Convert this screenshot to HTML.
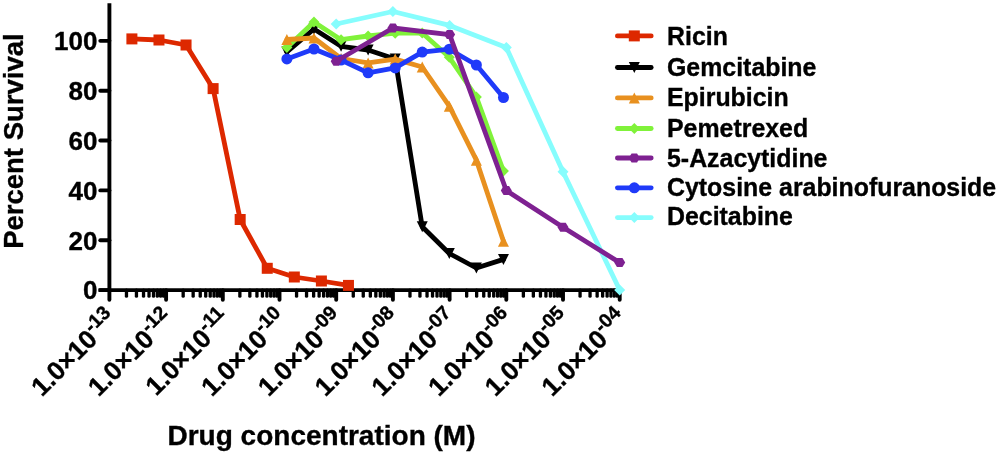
<!DOCTYPE html><html><head><meta charset="utf-8"><style>html,body{margin:0;padding:0;background:#fff;}svg{display:block;}text{font-family:"Liberation Sans",Arial,Helvetica,sans-serif;font-weight:bold;fill:#000;stroke:#000;stroke-width:0.35px;}</style></head><body>
<svg width="1000" height="454" viewBox="0 0 1000 454">
<line x1="109.4" y1="3.3" x2="109.4" y2="290.1" stroke="#000" stroke-width="3.9" stroke-linecap="butt"/>
<line x1="98.5" y1="290.1" x2="621.7" y2="290.1" stroke="#000" stroke-width="3.9" stroke-linecap="butt"/>
<line x1="100.3" y1="290.10" x2="109.4" y2="290.10" stroke="#000" stroke-width="3.9" stroke-linecap="round"/>
<text x="97.4" y="299.40" font-size="26" text-anchor="end">0</text>
<line x1="100.3" y1="240.25" x2="109.4" y2="240.25" stroke="#000" stroke-width="3.9" stroke-linecap="round"/>
<text x="97.4" y="249.55" font-size="26" text-anchor="end">20</text>
<line x1="100.3" y1="190.40" x2="109.4" y2="190.40" stroke="#000" stroke-width="3.9" stroke-linecap="round"/>
<text x="97.4" y="199.70" font-size="26" text-anchor="end">40</text>
<line x1="100.3" y1="140.55" x2="109.4" y2="140.55" stroke="#000" stroke-width="3.9" stroke-linecap="round"/>
<text x="97.4" y="149.85" font-size="26" text-anchor="end">60</text>
<line x1="100.3" y1="90.70" x2="109.4" y2="90.70" stroke="#000" stroke-width="3.9" stroke-linecap="round"/>
<text x="97.4" y="100.00" font-size="26" text-anchor="end">80</text>
<line x1="100.3" y1="40.85" x2="109.4" y2="40.85" stroke="#000" stroke-width="3.9" stroke-linecap="round"/>
<text x="97.4" y="50.15" font-size="26" text-anchor="end">100</text>
<line x1="109.40" y1="290.1" x2="109.40" y2="299.8" stroke="#000" stroke-width="3.9" stroke-linecap="round"/>
<line x1="126.47" y1="290.1" x2="126.47" y2="296.2" stroke="#000" stroke-width="3.31" stroke-linecap="round"/>
<line x1="136.45" y1="290.1" x2="136.45" y2="296.2" stroke="#000" stroke-width="3.31" stroke-linecap="round"/>
<line x1="143.54" y1="290.1" x2="143.54" y2="296.2" stroke="#000" stroke-width="3.31" stroke-linecap="round"/>
<line x1="149.03" y1="290.1" x2="149.03" y2="296.2" stroke="#000" stroke-width="3.31" stroke-linecap="round"/>
<line x1="153.52" y1="290.1" x2="153.52" y2="296.2" stroke="#000" stroke-width="3.31" stroke-linecap="round"/>
<line x1="157.32" y1="290.1" x2="157.32" y2="296.2" stroke="#000" stroke-width="3.31" stroke-linecap="round"/>
<line x1="160.61" y1="290.1" x2="160.61" y2="296.2" stroke="#000" stroke-width="3.31" stroke-linecap="round"/>
<line x1="163.51" y1="290.1" x2="163.51" y2="296.2" stroke="#000" stroke-width="3.31" stroke-linecap="round"/>
<text transform="translate(118.70,320.8) rotate(-45)" font-size="26" text-anchor="end">1.0×10<tspan font-size="19.5" dy="-10">-13</tspan></text>
<line x1="166.10" y1="290.1" x2="166.10" y2="299.8" stroke="#000" stroke-width="3.9" stroke-linecap="round"/>
<line x1="183.17" y1="290.1" x2="183.17" y2="296.2" stroke="#000" stroke-width="3.31" stroke-linecap="round"/>
<line x1="193.15" y1="290.1" x2="193.15" y2="296.2" stroke="#000" stroke-width="3.31" stroke-linecap="round"/>
<line x1="200.24" y1="290.1" x2="200.24" y2="296.2" stroke="#000" stroke-width="3.31" stroke-linecap="round"/>
<line x1="205.73" y1="290.1" x2="205.73" y2="296.2" stroke="#000" stroke-width="3.31" stroke-linecap="round"/>
<line x1="210.22" y1="290.1" x2="210.22" y2="296.2" stroke="#000" stroke-width="3.31" stroke-linecap="round"/>
<line x1="214.02" y1="290.1" x2="214.02" y2="296.2" stroke="#000" stroke-width="3.31" stroke-linecap="round"/>
<line x1="217.31" y1="290.1" x2="217.31" y2="296.2" stroke="#000" stroke-width="3.31" stroke-linecap="round"/>
<line x1="220.21" y1="290.1" x2="220.21" y2="296.2" stroke="#000" stroke-width="3.31" stroke-linecap="round"/>
<text transform="translate(175.40,320.8) rotate(-45)" font-size="26" text-anchor="end">1.0×10<tspan font-size="19.5" dy="-10">-12</tspan></text>
<line x1="222.80" y1="290.1" x2="222.80" y2="299.8" stroke="#000" stroke-width="3.9" stroke-linecap="round"/>
<line x1="239.87" y1="290.1" x2="239.87" y2="296.2" stroke="#000" stroke-width="3.31" stroke-linecap="round"/>
<line x1="249.85" y1="290.1" x2="249.85" y2="296.2" stroke="#000" stroke-width="3.31" stroke-linecap="round"/>
<line x1="256.94" y1="290.1" x2="256.94" y2="296.2" stroke="#000" stroke-width="3.31" stroke-linecap="round"/>
<line x1="262.43" y1="290.1" x2="262.43" y2="296.2" stroke="#000" stroke-width="3.31" stroke-linecap="round"/>
<line x1="266.92" y1="290.1" x2="266.92" y2="296.2" stroke="#000" stroke-width="3.31" stroke-linecap="round"/>
<line x1="270.72" y1="290.1" x2="270.72" y2="296.2" stroke="#000" stroke-width="3.31" stroke-linecap="round"/>
<line x1="274.01" y1="290.1" x2="274.01" y2="296.2" stroke="#000" stroke-width="3.31" stroke-linecap="round"/>
<line x1="276.91" y1="290.1" x2="276.91" y2="296.2" stroke="#000" stroke-width="3.31" stroke-linecap="round"/>
<text transform="translate(232.10,320.8) rotate(-45)" font-size="26" text-anchor="end">1.0×10<tspan font-size="19.5" dy="-10">-11</tspan></text>
<line x1="279.50" y1="290.1" x2="279.50" y2="299.8" stroke="#000" stroke-width="3.9" stroke-linecap="round"/>
<line x1="296.57" y1="290.1" x2="296.57" y2="296.2" stroke="#000" stroke-width="3.31" stroke-linecap="round"/>
<line x1="306.55" y1="290.1" x2="306.55" y2="296.2" stroke="#000" stroke-width="3.31" stroke-linecap="round"/>
<line x1="313.64" y1="290.1" x2="313.64" y2="296.2" stroke="#000" stroke-width="3.31" stroke-linecap="round"/>
<line x1="319.13" y1="290.1" x2="319.13" y2="296.2" stroke="#000" stroke-width="3.31" stroke-linecap="round"/>
<line x1="323.62" y1="290.1" x2="323.62" y2="296.2" stroke="#000" stroke-width="3.31" stroke-linecap="round"/>
<line x1="327.42" y1="290.1" x2="327.42" y2="296.2" stroke="#000" stroke-width="3.31" stroke-linecap="round"/>
<line x1="330.71" y1="290.1" x2="330.71" y2="296.2" stroke="#000" stroke-width="3.31" stroke-linecap="round"/>
<line x1="333.61" y1="290.1" x2="333.61" y2="296.2" stroke="#000" stroke-width="3.31" stroke-linecap="round"/>
<text transform="translate(288.80,320.8) rotate(-45)" font-size="26" text-anchor="end">1.0×10<tspan font-size="19.5" dy="-10">-10</tspan></text>
<line x1="336.20" y1="290.1" x2="336.20" y2="299.8" stroke="#000" stroke-width="3.9" stroke-linecap="round"/>
<line x1="353.27" y1="290.1" x2="353.27" y2="296.2" stroke="#000" stroke-width="3.31" stroke-linecap="round"/>
<line x1="363.25" y1="290.1" x2="363.25" y2="296.2" stroke="#000" stroke-width="3.31" stroke-linecap="round"/>
<line x1="370.34" y1="290.1" x2="370.34" y2="296.2" stroke="#000" stroke-width="3.31" stroke-linecap="round"/>
<line x1="375.83" y1="290.1" x2="375.83" y2="296.2" stroke="#000" stroke-width="3.31" stroke-linecap="round"/>
<line x1="380.32" y1="290.1" x2="380.32" y2="296.2" stroke="#000" stroke-width="3.31" stroke-linecap="round"/>
<line x1="384.12" y1="290.1" x2="384.12" y2="296.2" stroke="#000" stroke-width="3.31" stroke-linecap="round"/>
<line x1="387.41" y1="290.1" x2="387.41" y2="296.2" stroke="#000" stroke-width="3.31" stroke-linecap="round"/>
<line x1="390.31" y1="290.1" x2="390.31" y2="296.2" stroke="#000" stroke-width="3.31" stroke-linecap="round"/>
<text transform="translate(345.50,320.8) rotate(-45)" font-size="26" text-anchor="end">1.0×10<tspan font-size="19.5" dy="-10">-09</tspan></text>
<line x1="392.90" y1="290.1" x2="392.90" y2="299.8" stroke="#000" stroke-width="3.9" stroke-linecap="round"/>
<line x1="409.97" y1="290.1" x2="409.97" y2="296.2" stroke="#000" stroke-width="3.31" stroke-linecap="round"/>
<line x1="419.95" y1="290.1" x2="419.95" y2="296.2" stroke="#000" stroke-width="3.31" stroke-linecap="round"/>
<line x1="427.04" y1="290.1" x2="427.04" y2="296.2" stroke="#000" stroke-width="3.31" stroke-linecap="round"/>
<line x1="432.53" y1="290.1" x2="432.53" y2="296.2" stroke="#000" stroke-width="3.31" stroke-linecap="round"/>
<line x1="437.02" y1="290.1" x2="437.02" y2="296.2" stroke="#000" stroke-width="3.31" stroke-linecap="round"/>
<line x1="440.82" y1="290.1" x2="440.82" y2="296.2" stroke="#000" stroke-width="3.31" stroke-linecap="round"/>
<line x1="444.11" y1="290.1" x2="444.11" y2="296.2" stroke="#000" stroke-width="3.31" stroke-linecap="round"/>
<line x1="447.01" y1="290.1" x2="447.01" y2="296.2" stroke="#000" stroke-width="3.31" stroke-linecap="round"/>
<text transform="translate(402.20,320.8) rotate(-45)" font-size="26" text-anchor="end">1.0×10<tspan font-size="19.5" dy="-10">-08</tspan></text>
<line x1="449.60" y1="290.1" x2="449.60" y2="299.8" stroke="#000" stroke-width="3.9" stroke-linecap="round"/>
<line x1="466.67" y1="290.1" x2="466.67" y2="296.2" stroke="#000" stroke-width="3.31" stroke-linecap="round"/>
<line x1="476.65" y1="290.1" x2="476.65" y2="296.2" stroke="#000" stroke-width="3.31" stroke-linecap="round"/>
<line x1="483.74" y1="290.1" x2="483.74" y2="296.2" stroke="#000" stroke-width="3.31" stroke-linecap="round"/>
<line x1="489.23" y1="290.1" x2="489.23" y2="296.2" stroke="#000" stroke-width="3.31" stroke-linecap="round"/>
<line x1="493.72" y1="290.1" x2="493.72" y2="296.2" stroke="#000" stroke-width="3.31" stroke-linecap="round"/>
<line x1="497.52" y1="290.1" x2="497.52" y2="296.2" stroke="#000" stroke-width="3.31" stroke-linecap="round"/>
<line x1="500.81" y1="290.1" x2="500.81" y2="296.2" stroke="#000" stroke-width="3.31" stroke-linecap="round"/>
<line x1="503.71" y1="290.1" x2="503.71" y2="296.2" stroke="#000" stroke-width="3.31" stroke-linecap="round"/>
<text transform="translate(458.90,320.8) rotate(-45)" font-size="26" text-anchor="end">1.0×10<tspan font-size="19.5" dy="-10">-07</tspan></text>
<line x1="506.30" y1="290.1" x2="506.30" y2="299.8" stroke="#000" stroke-width="3.9" stroke-linecap="round"/>
<line x1="523.37" y1="290.1" x2="523.37" y2="296.2" stroke="#000" stroke-width="3.31" stroke-linecap="round"/>
<line x1="533.35" y1="290.1" x2="533.35" y2="296.2" stroke="#000" stroke-width="3.31" stroke-linecap="round"/>
<line x1="540.44" y1="290.1" x2="540.44" y2="296.2" stroke="#000" stroke-width="3.31" stroke-linecap="round"/>
<line x1="545.93" y1="290.1" x2="545.93" y2="296.2" stroke="#000" stroke-width="3.31" stroke-linecap="round"/>
<line x1="550.42" y1="290.1" x2="550.42" y2="296.2" stroke="#000" stroke-width="3.31" stroke-linecap="round"/>
<line x1="554.22" y1="290.1" x2="554.22" y2="296.2" stroke="#000" stroke-width="3.31" stroke-linecap="round"/>
<line x1="557.51" y1="290.1" x2="557.51" y2="296.2" stroke="#000" stroke-width="3.31" stroke-linecap="round"/>
<line x1="560.41" y1="290.1" x2="560.41" y2="296.2" stroke="#000" stroke-width="3.31" stroke-linecap="round"/>
<text transform="translate(515.60,320.8) rotate(-45)" font-size="26" text-anchor="end">1.0×10<tspan font-size="19.5" dy="-10">-06</tspan></text>
<line x1="563.00" y1="290.1" x2="563.00" y2="299.8" stroke="#000" stroke-width="3.9" stroke-linecap="round"/>
<line x1="580.07" y1="290.1" x2="580.07" y2="296.2" stroke="#000" stroke-width="3.31" stroke-linecap="round"/>
<line x1="590.05" y1="290.1" x2="590.05" y2="296.2" stroke="#000" stroke-width="3.31" stroke-linecap="round"/>
<line x1="597.14" y1="290.1" x2="597.14" y2="296.2" stroke="#000" stroke-width="3.31" stroke-linecap="round"/>
<line x1="602.63" y1="290.1" x2="602.63" y2="296.2" stroke="#000" stroke-width="3.31" stroke-linecap="round"/>
<line x1="607.12" y1="290.1" x2="607.12" y2="296.2" stroke="#000" stroke-width="3.31" stroke-linecap="round"/>
<line x1="610.92" y1="290.1" x2="610.92" y2="296.2" stroke="#000" stroke-width="3.31" stroke-linecap="round"/>
<line x1="614.21" y1="290.1" x2="614.21" y2="296.2" stroke="#000" stroke-width="3.31" stroke-linecap="round"/>
<line x1="617.11" y1="290.1" x2="617.11" y2="296.2" stroke="#000" stroke-width="3.31" stroke-linecap="round"/>
<text transform="translate(572.30,320.8) rotate(-45)" font-size="26" text-anchor="end">1.0×10<tspan font-size="19.5" dy="-10">-05</tspan></text>
<line x1="619.70" y1="290.1" x2="619.70" y2="299.8" stroke="#000" stroke-width="3.9" stroke-linecap="round"/>
<text transform="translate(629.00,320.8) rotate(-45)" font-size="26" text-anchor="end">1.0×10<tspan font-size="19.5" dy="-10">-04</tspan></text>
<polyline points="336.20,24.00 392.90,11.50 449.60,25.40 506.30,47.40 563.00,171.70 619.70,290.00" fill="none" stroke="#86fdfd" stroke-width="4.8" stroke-linejoin="round" stroke-linecap="round"/>
<polygon points="336.20,18.50 341.70,24.00 336.20,29.50 330.70,24.00" fill="#86fdfd"/>
<polygon points="392.90,6.00 398.40,11.50 392.90,17.00 387.40,11.50" fill="#86fdfd"/>
<polygon points="449.60,19.90 455.10,25.40 449.60,30.90 444.10,25.40" fill="#86fdfd"/>
<polygon points="506.30,41.90 511.80,47.40 506.30,52.90 500.80,47.40" fill="#86fdfd"/>
<polygon points="563.00,166.20 568.50,171.70 563.00,177.20 557.50,171.70" fill="#86fdfd"/>
<polygon points="619.70,284.50 625.20,290.00 619.70,295.50 614.20,290.00" fill="#86fdfd"/>
<polyline points="131.90,38.90 158.97,40.00 186.04,45.00 213.11,88.60 240.18,219.50 267.25,268.30 294.32,277.00 321.39,281.00 348.46,285.40" fill="none" stroke="#dd2800" stroke-width="4.8" stroke-linejoin="round" stroke-linecap="round"/>
<rect x="126.40" y="33.40" width="11.00" height="11.00" fill="#dd2800"/>
<rect x="153.47" y="34.50" width="11.00" height="11.00" fill="#dd2800"/>
<rect x="180.54" y="39.50" width="11.00" height="11.00" fill="#dd2800"/>
<rect x="207.61" y="83.10" width="11.00" height="11.00" fill="#dd2800"/>
<rect x="234.68" y="214.00" width="11.00" height="11.00" fill="#dd2800"/>
<rect x="261.75" y="262.80" width="11.00" height="11.00" fill="#dd2800"/>
<rect x="288.82" y="271.50" width="11.00" height="11.00" fill="#dd2800"/>
<rect x="315.89" y="275.50" width="11.00" height="11.00" fill="#dd2800"/>
<rect x="342.96" y="279.90" width="11.00" height="11.00" fill="#dd2800"/>
<polyline points="286.90,52.00 313.97,29.00 341.04,46.30 368.11,50.00 395.18,59.00 422.25,226.80 449.32,253.50 476.39,268.00 503.46,259.40" fill="none" stroke="#000000" stroke-width="4.8" stroke-linejoin="round" stroke-linecap="round"/>
<polygon points="281.40,46.50 292.40,46.50 286.90,57.50" fill="#000000"/>
<polygon points="308.47,23.50 319.47,23.50 313.97,34.50" fill="#000000"/>
<polygon points="335.54,40.80 346.54,40.80 341.04,51.80" fill="#000000"/>
<polygon points="362.61,44.50 373.61,44.50 368.11,55.50" fill="#000000"/>
<polygon points="389.68,53.50 400.68,53.50 395.18,64.50" fill="#000000"/>
<polygon points="416.75,221.30 427.75,221.30 422.25,232.30" fill="#000000"/>
<polygon points="443.82,248.00 454.82,248.00 449.32,259.00" fill="#000000"/>
<polygon points="470.89,262.50 481.89,262.50 476.39,273.50" fill="#000000"/>
<polygon points="497.96,253.90 508.96,253.90 503.46,264.90" fill="#000000"/>
<polyline points="286.90,47.40 313.97,22.10 341.04,39.70 368.11,36.00 395.18,33.20 422.25,33.00 449.32,57.30 476.39,97.00 503.46,171.00" fill="none" stroke="#80f23a" stroke-width="4.8" stroke-linejoin="round" stroke-linecap="round"/>
<polygon points="286.90,41.90 292.40,47.40 286.90,52.90 281.40,47.40" fill="#80f23a"/>
<polygon points="313.97,16.60 319.47,22.10 313.97,27.60 308.47,22.10" fill="#80f23a"/>
<polygon points="341.04,34.20 346.54,39.70 341.04,45.20 335.54,39.70" fill="#80f23a"/>
<polygon points="368.11,30.50 373.61,36.00 368.11,41.50 362.61,36.00" fill="#80f23a"/>
<polygon points="395.18,27.70 400.68,33.20 395.18,38.70 389.68,33.20" fill="#80f23a"/>
<polygon points="422.25,27.50 427.75,33.00 422.25,38.50 416.75,33.00" fill="#80f23a"/>
<polygon points="449.32,51.80 454.82,57.30 449.32,62.80 443.82,57.30" fill="#80f23a"/>
<polygon points="476.39,91.50 481.89,97.00 476.39,102.50 470.89,97.00" fill="#80f23a"/>
<polygon points="503.46,165.50 508.96,171.00 503.46,176.50 497.96,171.00" fill="#80f23a"/>
<polyline points="286.90,39.50 313.97,38.00 341.04,58.50 368.11,62.90 395.18,59.10 422.25,67.00 449.32,106.20 476.39,160.20 503.46,241.30" fill="none" stroke="#e8901f" stroke-width="4.8" stroke-linejoin="round" stroke-linecap="round"/>
<polygon points="286.90,34.00 292.40,45.00 281.40,45.00" fill="#e8901f"/>
<polygon points="313.97,32.50 319.47,43.50 308.47,43.50" fill="#e8901f"/>
<polygon points="341.04,53.00 346.54,64.00 335.54,64.00" fill="#e8901f"/>
<polygon points="368.11,57.40 373.61,68.40 362.61,68.40" fill="#e8901f"/>
<polygon points="395.18,53.60 400.68,64.60 389.68,64.60" fill="#e8901f"/>
<polygon points="422.25,61.50 427.75,72.50 416.75,72.50" fill="#e8901f"/>
<polygon points="449.32,100.70 454.82,111.70 443.82,111.70" fill="#e8901f"/>
<polygon points="476.39,154.70 481.89,165.70 470.89,165.70" fill="#e8901f"/>
<polygon points="503.46,235.80 508.96,246.80 497.96,246.80" fill="#e8901f"/>
<polyline points="286.90,58.90 313.97,49.00 341.04,60.00 368.11,72.80 395.18,67.90 422.25,52.10 449.32,49.20 476.39,65.00 503.46,97.50" fill="none" stroke="#1f3af9" stroke-width="4.8" stroke-linejoin="round" stroke-linecap="round"/>
<circle cx="286.90" cy="58.90" r="5.50" fill="#1f3af9"/>
<circle cx="313.97" cy="49.00" r="5.50" fill="#1f3af9"/>
<circle cx="341.04" cy="60.00" r="5.50" fill="#1f3af9"/>
<circle cx="368.11" cy="72.80" r="5.50" fill="#1f3af9"/>
<circle cx="395.18" cy="67.90" r="5.50" fill="#1f3af9"/>
<circle cx="422.25" cy="52.10" r="5.50" fill="#1f3af9"/>
<circle cx="449.32" cy="49.20" r="5.50" fill="#1f3af9"/>
<circle cx="476.39" cy="65.00" r="5.50" fill="#1f3af9"/>
<circle cx="503.46" cy="97.50" r="5.50" fill="#1f3af9"/>
<polyline points="336.20,61.20 392.90,28.00 449.60,34.60 506.30,190.50 563.00,227.30 619.70,262.60" fill="none" stroke="#7e2191" stroke-width="4.8" stroke-linejoin="round" stroke-linecap="round"/>
<polygon points="330.70,61.20 333.45,56.69 338.95,56.69 341.70,61.20 338.95,65.71 333.45,65.71" fill="#7e2191"/>
<polygon points="387.40,28.00 390.15,23.49 395.65,23.49 398.40,28.00 395.65,32.51 390.15,32.51" fill="#7e2191"/>
<polygon points="444.10,34.60 446.85,30.09 452.35,30.09 455.10,34.60 452.35,39.11 446.85,39.11" fill="#7e2191"/>
<polygon points="500.80,190.50 503.55,185.99 509.05,185.99 511.80,190.50 509.05,195.01 503.55,195.01" fill="#7e2191"/>
<polygon points="557.50,227.30 560.25,222.79 565.75,222.79 568.50,227.30 565.75,231.81 560.25,231.81" fill="#7e2191"/>
<polygon points="614.20,262.60 616.95,258.09 622.45,258.09 625.20,262.60 622.45,267.11 616.95,267.11" fill="#7e2191"/>
<line x1="617.4" y1="35.90" x2="651.2" y2="35.90" stroke="#dd2800" stroke-width="4.8" stroke-linecap="round"/>
<rect x="628.80" y="30.40" width="11.00" height="11.00" fill="#dd2800"/>
<text x="667" y="45.00" font-size="24.9">Ricin</text>
<line x1="617.4" y1="67.50" x2="651.2" y2="67.50" stroke="#000000" stroke-width="4.8" stroke-linecap="round"/>
<polygon points="628.80,62.00 639.80,62.00 634.30,73.00" fill="#000000"/>
<text x="667" y="75.80" font-size="24.9">Gemcitabine</text>
<line x1="617.4" y1="97.90" x2="651.2" y2="97.90" stroke="#e8901f" stroke-width="4.8" stroke-linecap="round"/>
<polygon points="634.30,92.40 639.80,103.40 628.80,103.40" fill="#e8901f"/>
<text x="667" y="106.20" font-size="24.9">Epirubicin</text>
<line x1="617.4" y1="128.50" x2="651.2" y2="128.50" stroke="#80f23a" stroke-width="4.8" stroke-linecap="round"/>
<polygon points="634.30,123.00 639.80,128.50 634.30,134.00 628.80,128.50" fill="#80f23a"/>
<text x="667" y="137.20" font-size="24.9">Pemetrexed</text>
<line x1="617.4" y1="158.00" x2="651.2" y2="158.00" stroke="#7e2191" stroke-width="4.8" stroke-linecap="round"/>
<polygon points="628.80,158.00 631.55,153.49 637.05,153.49 639.80,158.00 637.05,162.51 631.55,162.51" fill="#7e2191"/>
<text x="667" y="166.60" font-size="24.9">5-Azacytidine</text>
<line x1="617.4" y1="187.80" x2="651.2" y2="187.80" stroke="#1f3af9" stroke-width="4.8" stroke-linecap="round"/>
<circle cx="634.30" cy="187.80" r="5.50" fill="#1f3af9"/>
<text x="667" y="195.90" font-size="24.9">Cytosine arabinofuranoside</text>
<line x1="617.4" y1="217.60" x2="651.2" y2="217.60" stroke="#86fdfd" stroke-width="4.8" stroke-linecap="round"/>
<polygon points="634.30,212.10 639.80,217.60 634.30,223.10 628.80,217.60" fill="#86fdfd"/>
<text x="667" y="225.40" font-size="24.9">Decitabine</text>
<text transform="translate(22.8,141.1) rotate(-90)" font-size="27.5" text-anchor="middle">Percent Survival</text>
<text x="321.5" y="444.5" font-size="28" text-anchor="middle">Drug concentration (M)</text>
</svg></body></html>
